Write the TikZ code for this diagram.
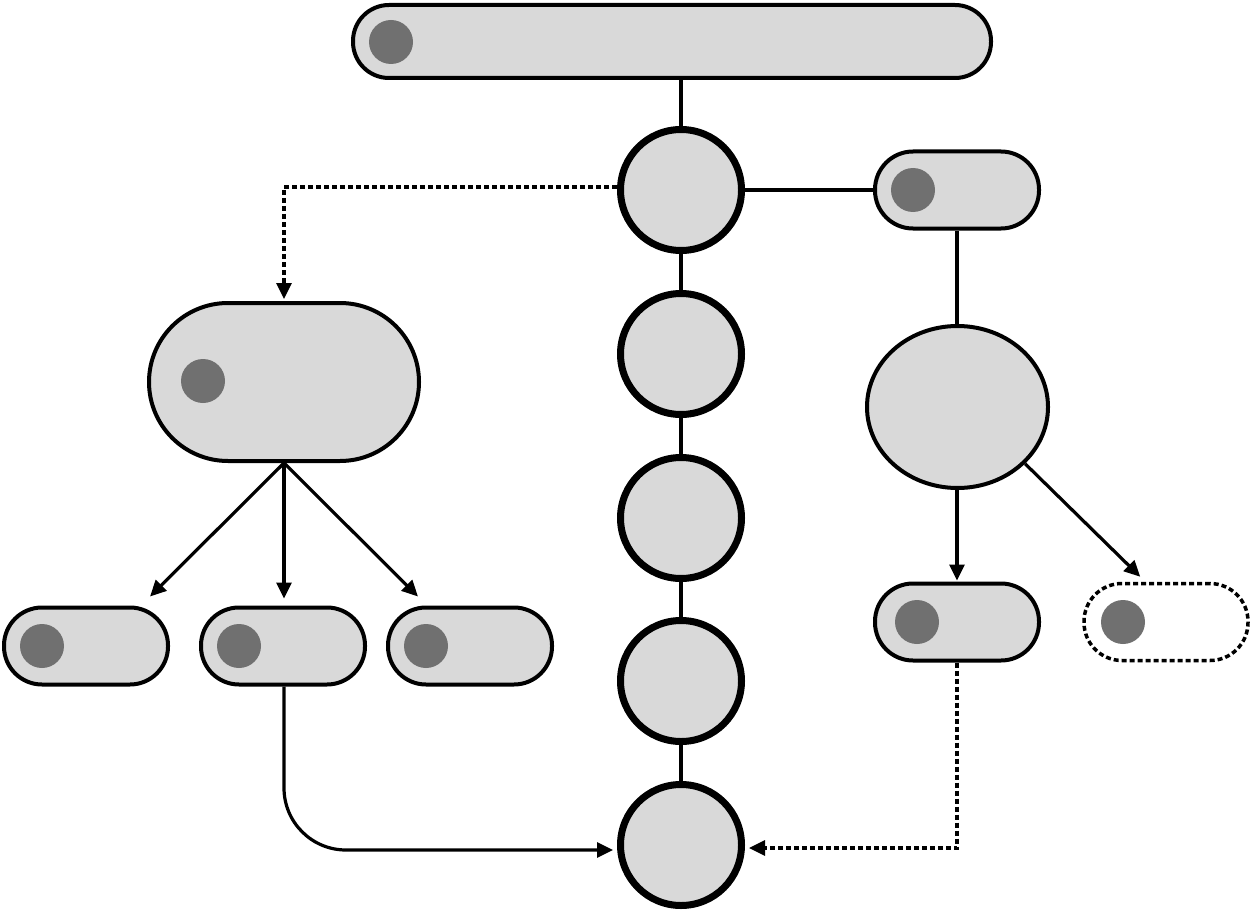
\documentclass[tikz,border=0pt]{standalone}
\usetikzlibrary{arrows.meta,calc,shapes.geometric}
\definecolor{fillgray}{HTML}{D9D9D9}
\definecolor{dotgray}{HTML}{707070}
\begin{document}
\begin{tikzpicture}[x=1pt,y=-1pt,
  pill/.style={draw=black,fill=fillgray,line width=4pt,rectangle,rounded corners=38pt,minimum width=164pt,minimum height=77pt,inner sep=0pt},
  dashpill/.style={pill,fill=white,dash pattern=on 5pt off 3pt,line width=3.5pt},
  bigc/.style={draw=black,fill=fillgray,line width=7pt,circle,minimum size=121pt,inner sep=0pt},
  dot/.style={fill=dotgray,circle,minimum size=44pt,inner sep=0pt},
  conn/.style={line width=3.2pt},
  arr/.style={line width=3.2pt,-{Triangle[length=16pt,width=15pt]}},
  dotarr/.style={line width=3.2pt,dash pattern=on 5pt off 3pt,-{Triangle[length=16pt,width=15pt]}}
]
\useasboundingbox (0,0) rectangle (1252,912);
% top bar
\node[pill,minimum width=638pt,minimum height=73pt,rounded corners=36pt] (bar) at (672,41.5) {};
\node[dot] (bard) at (391,42) {};
% center column
\node[bigc] (c1) at (681,190) {};
\node[bigc] (c2) at (681,354) {};
\node[bigc] (c3) at (681,518) {};
\node[bigc] (c4) at (681,681) {};
\node[bigc] (c5) at (681,845) {};
% right
\node[pill] (rp) at (957,190) {};
\node[dot] (rpd) at (913,190) {};
\node[draw=black,fill=fillgray,line width=4pt,ellipse,minimum width=181pt,minimum height=162pt,inner sep=0pt] (bc) at (957.5,407) {};
\node[pill] (rp2) at (957,622) {};
\node[dot] (rp2d) at (917,622) {};
\node[dashpill] (dp) at (1166,622) {};
\node[dot] (dpd) at (1123,622) {};
% left
\node[pill,minimum width=270pt,minimum height=158pt,rounded corners=79pt] (lp) at (284,382) {};
\node[dot] (lpd) at (203,381) {};
\node[pill] (pa) at (86,646) {};
\node[dot] (pad) at (42,646) {};
\node[pill] (pb) at (283,646) {};
\node[dot] (pbd) at (239,646) {};
\node[pill] (pc) at (470,646) {};
\node[dot] (pcd) at (426,646) {};
% connectors
\draw[conn] (bar.south -| c1.north) -- (c1.north);
\draw[conn] (c1) -- (c2);
\draw[conn] (c2) -- (c3);
\draw[conn] (c3) -- (c4);
\draw[conn] (c4) -- (c5);
\draw[conn] (c1.east) -- (rp.west);
\draw[conn] (rp.south) -- (bc.north -| rp.south);
\draw[arr] (bc.south -| rp2.north) -- ($(rp2.north)+(0,-1)$);
\coordinate (dpt) at ($(dp.north west)+(58,-5)$);
\draw[arr] (bc.-40) -- (dpt);
\draw[dotarr] (rp2.south) |- ($(c5.east)+(4,3)$);
\draw[dotarr] ($(c1.west)+(0,-3)$) -| ($(lp.north)+(0,-2)$);
\coordinate (ta) at ($(pa.north east)+(-20,-9)$);
\coordinate (tb) at ($(pb.north)+(1,-7)$);
\coordinate (tc) at ($(pc.north west)+(32,-9)$);
\draw[arr] (lp.south) -- (ta);
\draw[arr] (lp.south) -- (tb);
\draw[arr] (lp.south) -- (tc);
\draw[arr,rounded corners=62pt] ($(pb.south)+(1,0)$) |- ($(c5.west)+(-4,5)$);
\end{tikzpicture}
\end{document}
